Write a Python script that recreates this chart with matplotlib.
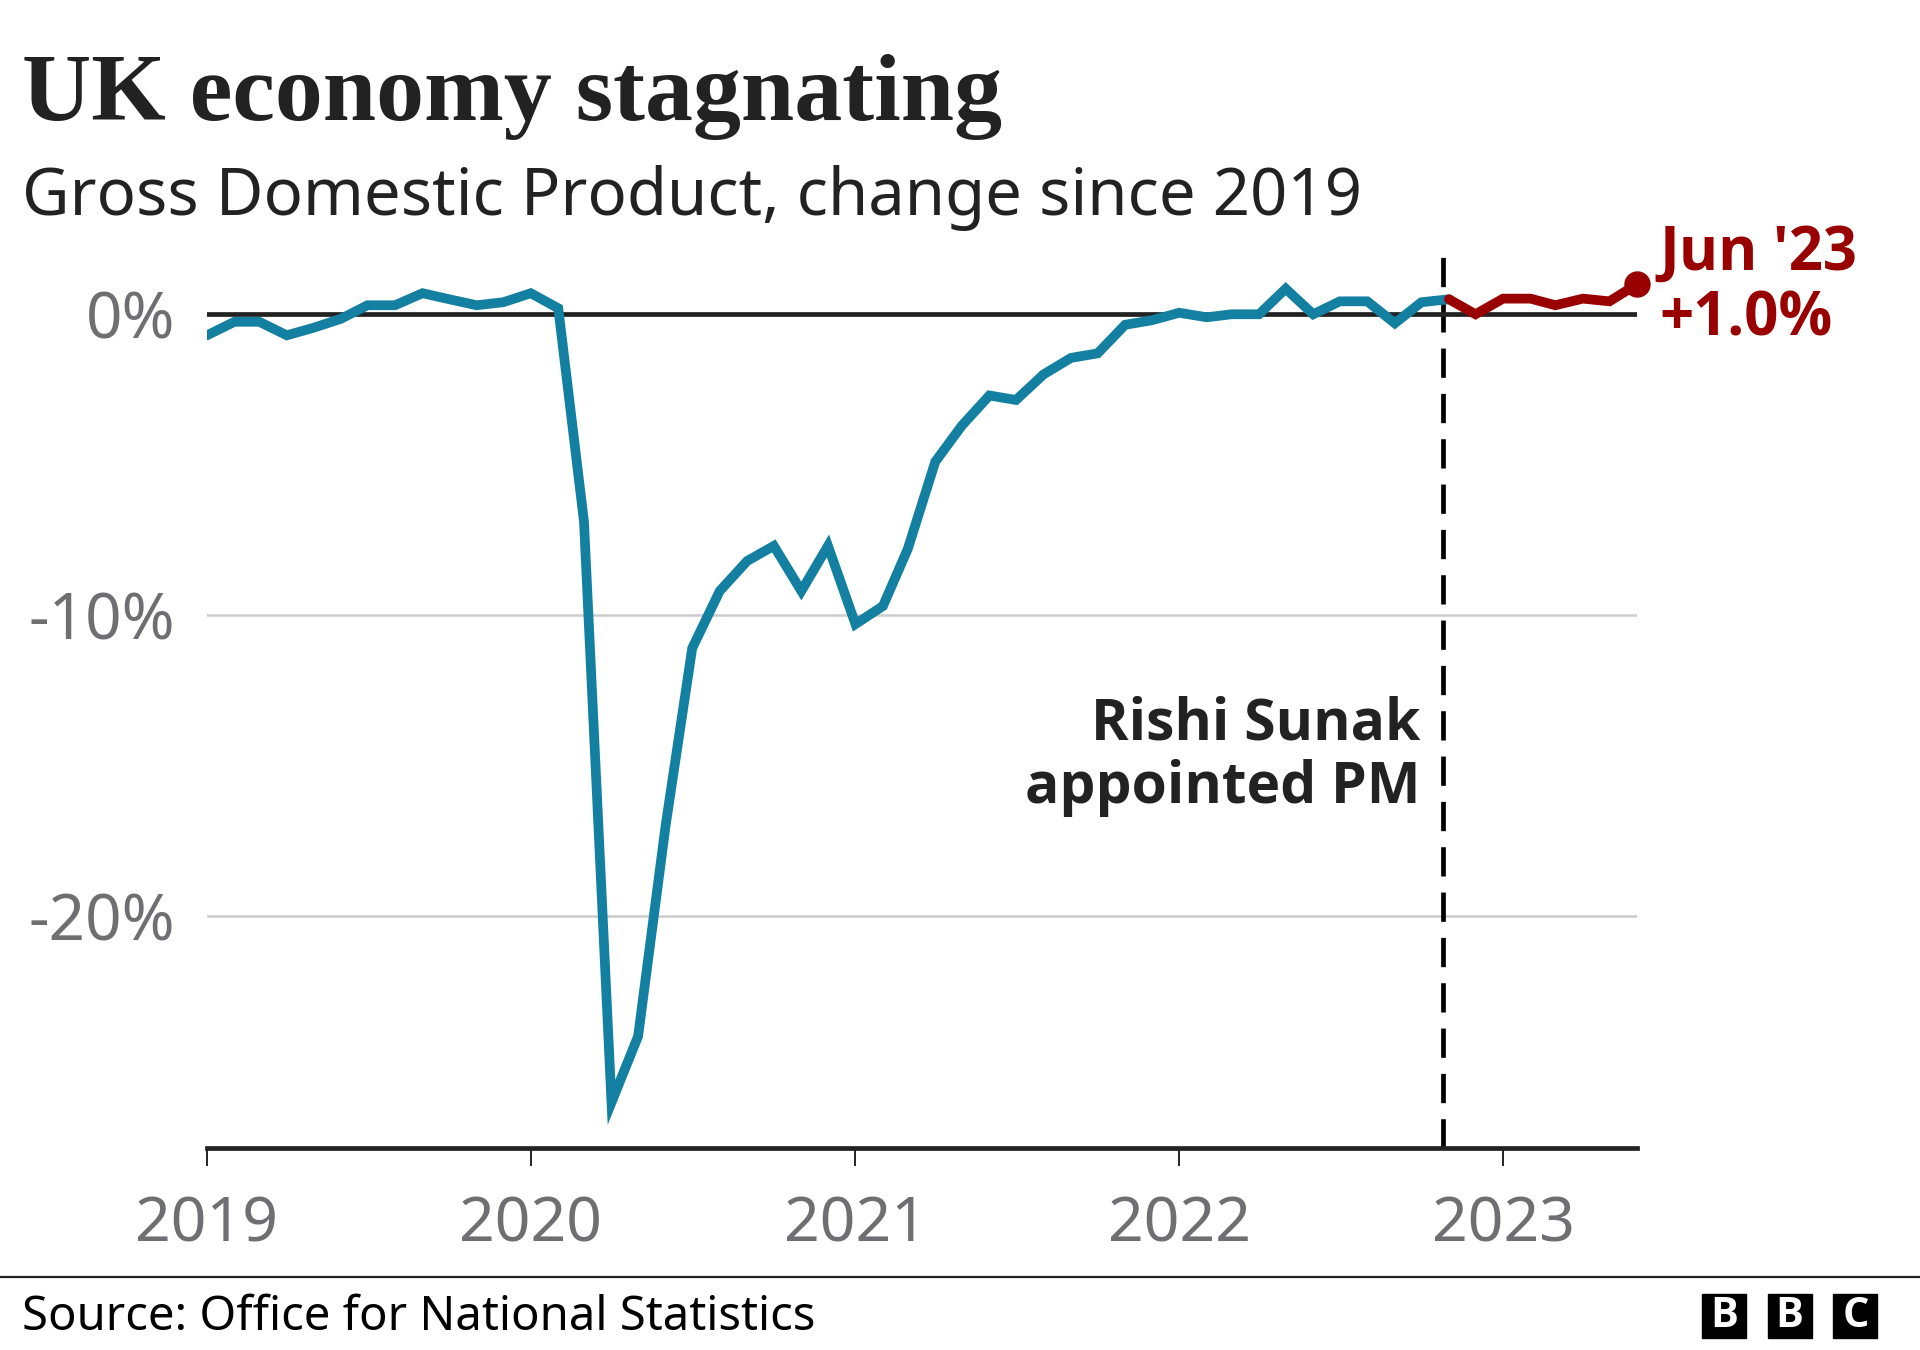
"""UK GDP change since 2019, BBC-style line chart."""

import matplotlib
matplotlib.use("Agg")
import matplotlib.pyplot as plt
import pandas as pd
from matplotlib.patches import Rectangle

# monthly GDP, % change vs 2019 level, Jan 2019 .. Jun 2023
months = pd.date_range("2019-01-01", "2023-06-01", freq="MS")
gdp_change = [
    -0.7, -0.25, -0.25, -0.7, -0.45, -0.15, 0.3, 0.3, 0.7, 0.5, 0.3, 0.4,
    0.7, 0.2, -6.9, -26.2, -24.0, -17.0, -11.1, -9.2, -8.2, -7.7, -9.2, -7.7,
    -10.3, -9.7, -7.8, -4.9, -3.7, -2.7, -2.85, -2.0, -1.45, -1.3, -0.35, -0.2,
    0.05, -0.1, 0.0, 0.0, 0.85, 0.0, 0.43, 0.43, -0.3, 0.4, 0.5, 0.0,
    0.52, 0.52, 0.3, 0.52, 0.43, 1.0,
]
split_month = pd.Timestamp("2022-11-01")  # red segment starts here
sunak_date = pd.Timestamp("2022-10-25")
year_ticks = [pd.Timestamp(f"{y}-01-01") for y in range(2019, 2024)]
year_labels = ["2019", "2020", "2021", "2022", "2023"]
y_ticks = [-20, -10, 0]
y_labels = ["-20%", "-10%", "0%"]

BLUE = "#1380A1"
RED = "#990000"
DARK = "#222222"
GREY = "#6e6e73"
SANS = ["Noto Sans", "DejaVu Sans"]
BOLD = ["Open Sans", "DejaVu Sans"]

plt.rcParams["font.family"] = SANS

series = pd.Series(gdp_change, index=months)
before = series[series.index <= split_month]
after = series[series.index >= split_month]

fig = plt.figure(figsize=(19.2, 13.5), dpi=100)
ax = fig.add_axes([0.1078, 0.150, 0.7448, 0.664])

ax.plot(before.index, before.values, color=BLUE, lw=7,
        solid_joinstyle="miter", solid_capstyle="round", zorder=4)
ax.plot(after.index, after.values, color=RED, lw=7,
        solid_joinstyle="miter", solid_capstyle="round", zorder=5)
ax.plot(after.index[-1], after.values[-1], "o", color=RED, ms=18, zorder=6,
        clip_on=False)

ax.axhline(0, color=DARK, lw=3.4, zorder=3)
ax.axvline(sunak_date, color="black", lw=3.4, linestyle=(0, (6.2, 3.4)),
           zorder=2)

ax.set_xlim(months[0], months[-1])
ax.set_ylim(-27.7, 2.1)

ax.set_yticks(y_ticks, y_labels)
ax.set_xticks(year_ticks, year_labels)
ax.grid(axis="y", color="#cccccc", lw=1.8, zorder=1)
ax.tick_params(axis="y", length=0, pad=23, labelsize=46, labelcolor=GREY)
ax.tick_params(axis="x", length=13, width=1.4, color=DARK, pad=21,
               labelsize=45, labelcolor=GREY)

for side in ("top", "right", "left"):
    ax.spines[side].set_visible(False)
ax.spines["bottom"].set_color(DARK)
ax.spines["bottom"].set_linewidth(3.4)

ax.annotate("Rishi Sunak\nappointed PM", xy=(sunak_date, -14.7),
            xytext=(-16, 0), textcoords="offset points",
            ha="right", va="center", fontsize=41, fontweight="bold",
            family=BOLD, color=DARK, linespacing=1.12)
ax.annotate("Jun '23\n+1.0%", xy=(after.index[-1], after.values[-1]),
            xytext=(16, -2), textcoords="offset points",
            ha="left", va="center", fontsize=43, fontweight="bold",
            family=BOLD, color=RED, linespacing=1.12, annotation_clip=False)

fig.text(0.0115, 0.911, "UK economy stagnating", fontsize=69,
         fontweight="bold", family=["Liberation Serif", "DejaVu Serif"],
         color=DARK, va="baseline")
fig.text(0.0115, 0.841, "Gross Domestic Product, change since 2019",
         fontsize=47, color=DARK, va="baseline")

# footer
fig.add_artist(plt.Line2D([0, 1], [0.054, 0.054], transform=fig.transFigure,
                          color=DARK, lw=1.6))
fig.text(0.0115, 0.0145, "Source: Office for National Statistics",
         fontsize=34, color="black", va="baseline")
for i, letter in enumerate("BBC"):
    x0 = 0.8865 + i * 0.0342
    fig.add_artist(Rectangle((x0, 0.0089), 0.0229, 0.0326,
                             transform=fig.transFigure, color="black"))
    fig.text(x0 + 0.01145, 0.0250, letter, fontsize=30, fontweight="bold",
             family=BOLD, color="white", ha="center", va="center")

fig.savefig("out.png", dpi=100, facecolor="white")
